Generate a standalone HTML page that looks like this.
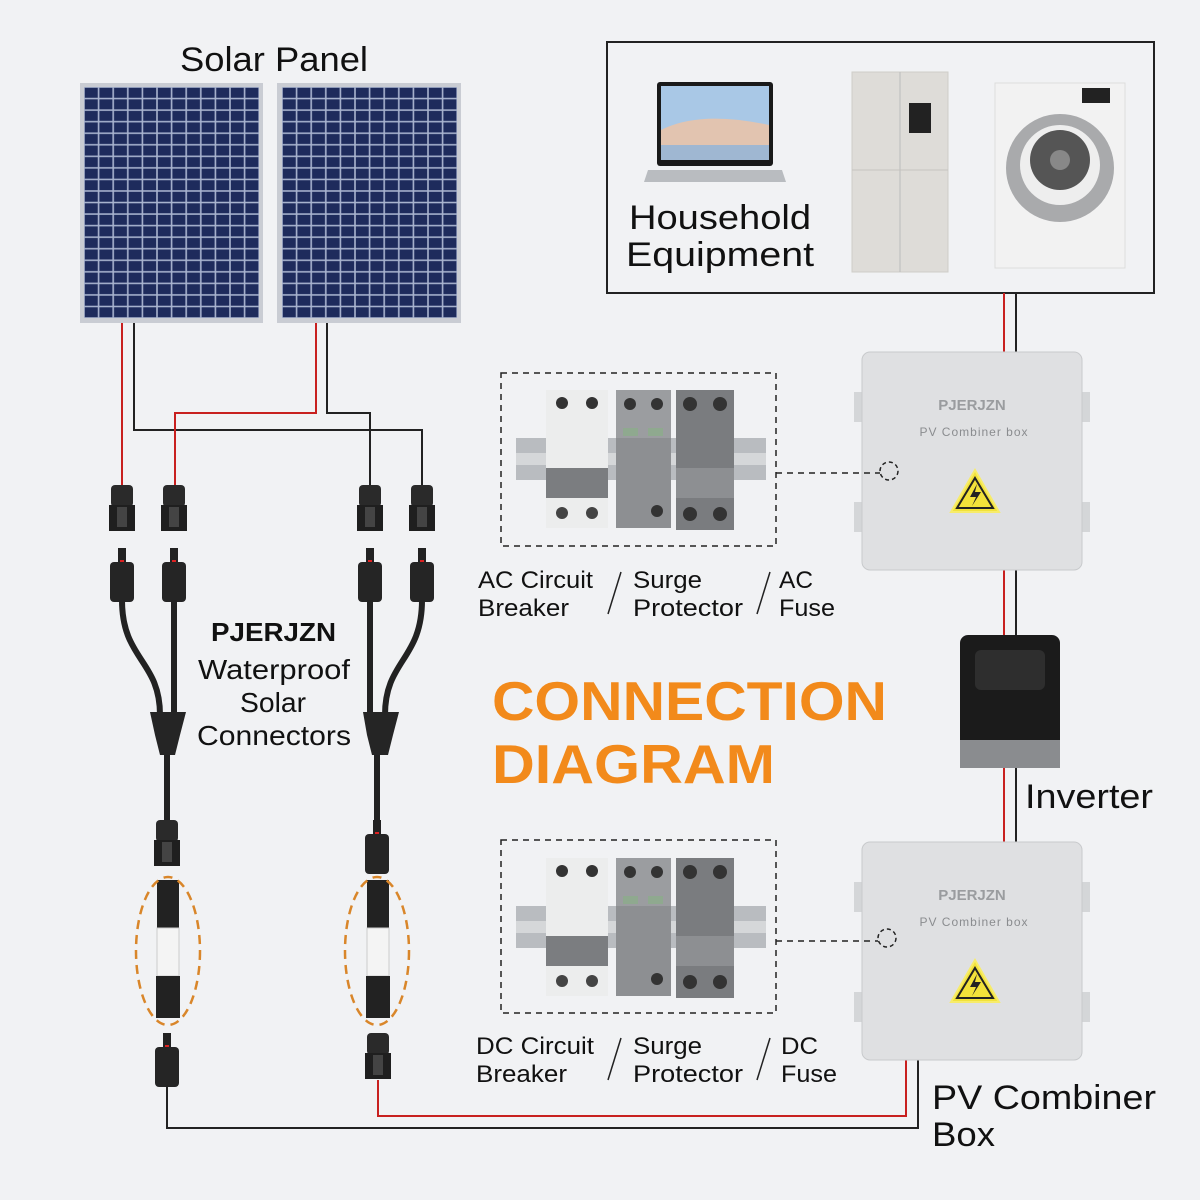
<!DOCTYPE html>
<html><head><meta charset="utf-8"><style>
html,body{margin:0;padding:0;background:#f1f2f4}
svg{display:block}
text{font-family:"Liberation Sans",sans-serif;fill:#111}
</style></head><body>
<svg width="1200" height="1200" viewBox="0 0 1200 1200" xmlns="http://www.w3.org/2000/svg">
<defs>
<pattern id="cells" x="84" y="87" width="14.6" height="11.55" patternUnits="userSpaceOnUse">
<rect width="14.6" height="11.55" fill="#a9b4cf"/>
<rect x="0.8" y="0.8" width="13" height="10" fill="#1e2b5c"/>
</pattern>
<pattern id="cells2" x="282" y="87" width="14.6" height="11.55" patternUnits="userSpaceOnUse">
<rect width="14.6" height="11.55" fill="#a9b4cf"/>
<rect x="0.8" y="0.8" width="13" height="10" fill="#1e2b5c"/>
</pattern>
<g id="connA"><rect x="-11" y="0" width="22" height="22" rx="4" fill="#2a2a2a"/><rect x="-13" y="20" width="26" height="26" fill="#1f1f1f"/><rect x="-5" y="22" width="10" height="20" fill="#444"/></g>
<g id="connB"><rect x="-4" y="0" width="8" height="14" fill="#222"/><rect x="-2" y="12" width="4" height="4" fill="#d22"/><rect x="-12" y="14" width="24" height="40" rx="4" fill="#252525"/></g>
<g id="breaker">
<rect x="0" y="70" width="250" height="42" fill="#b9bcc0"/><rect x="0" y="85" width="250" height="12" fill="#d5d7d9"/>
<rect x="30" y="22" width="62" height="138" fill="#eceded"/><rect x="30" y="100" width="62" height="30" fill="#7b7d80"/>
<circle cx="46" cy="35" r="6" fill="#333"/><circle cx="76" cy="35" r="6" fill="#333"/><circle cx="46" cy="145" r="6" fill="#444"/><circle cx="76" cy="145" r="6" fill="#444"/>
<rect x="100" y="22" width="55" height="138" fill="#8d8f92"/><rect x="100" y="22" width="55" height="48" fill="#9b9da0"/>
<circle cx="114" cy="36" r="6" fill="#333"/><circle cx="141" cy="36" r="6" fill="#333"/><circle cx="141" cy="143" r="6" fill="#333"/>
<rect x="107" y="60" width="15" height="8" fill="#8fa98f"/><rect x="132" y="60" width="15" height="8" fill="#8fa98f"/>
<rect x="160" y="22" width="58" height="140" fill="#7a7c7f"/><rect x="160" y="100" width="58" height="30" fill="#8d8f92"/>
<circle cx="174" cy="36" r="7" fill="#333"/><circle cx="204" cy="36" r="7" fill="#333"/><circle cx="174" cy="146" r="7" fill="#333"/><circle cx="204" cy="146" r="7" fill="#333"/>
</g>
<g id="cbox">
<rect x="-8" y="40" width="10" height="30" fill="#d4d6d8"/><rect x="-8" y="150" width="10" height="30" fill="#d4d6d8"/>
<rect x="218" y="40" width="10" height="30" fill="#d4d6d8"/><rect x="218" y="150" width="10" height="30" fill="#d4d6d8"/>
<rect x="0" y="0" width="220" height="218" rx="8" fill="#dfe0e2" stroke="#c8cacc"/>
<text x="110" y="58" text-anchor="middle" font-size="15" font-weight="bold" style="fill:#9a9c9f">PJERJZN</text>
<text x="112" y="84" text-anchor="middle" font-size="12" style="fill:#8a8c8f;letter-spacing:1px">PV Combiner box</text>
<polygon points="113,118 137,160 89,160" fill="#f2e23a" stroke="#f7ec6a" stroke-width="2"/>
<polygon points="113,126 131,156 95,156" fill="none" stroke="#222" stroke-width="2"/>
<path d="M115,132 L108,145 L114,145 L110,154 L119,140 L113,140 Z" fill="#222"/>
</g>
</defs>

<text x="180" y="71" font-size="34" textLength="188" lengthAdjust="spacingAndGlyphs">Solar Panel</text>
<rect x="80" y="83" width="183" height="240" fill="#c9ccd3"/><rect x="84" y="87" width="175" height="231" fill="url(#cells)"/>
<rect x="277" y="83" width="184" height="240" fill="#c9ccd3"/><rect x="282" y="87" width="175" height="231" fill="url(#cells2)"/>

<g fill="none" stroke-width="2">
<path d="M122,323 V487" stroke="#c8201f"/>
<path d="M134,323 V430 H422 V487" stroke="#222"/>
<path d="M316,323 V413 H175 V487" stroke="#c8201f"/>
<path d="M327,323 V413 H370 V487" stroke="#222"/>
</g>

<use href="#connA" x="122" y="485"/><use href="#connA" x="174" y="485"/>
<use href="#connB" x="122" y="548"/><use href="#connB" x="174" y="548"/>
<use href="#connA" x="370" y="485"/><use href="#connA" x="422" y="485"/>
<use href="#connB" x="370" y="548"/><use href="#connB" x="422" y="548"/>
<g fill="none" stroke="#222" stroke-width="6">
<path d="M122,600 C122,660 160,660 160,715"/><path d="M174,600 V715"/>
<path d="M370,600 V715"/><path d="M422,600 C422,660 385,660 385,715"/>
<path d="M167,750 V825"/><path d="M377,750 V825"/>
</g>
<path d="M150,712 H186 L180,735 L175,755 H160 L155,735 Z" fill="#252525"/>
<path d="M363,712 H399 L393,735 L388,755 H372 L367,735 Z" fill="#252525"/>
<use href="#connA" x="167" y="820"/><use href="#connB" x="377" y="820"/>
<rect x="157" y="880" width="22" height="48" fill="#222"/><rect x="157" y="928" width="22" height="48" fill="#f4f4f4" stroke="#ccc"/><rect x="156" y="976" width="24" height="42" fill="#222"/>
<rect x="367" y="880" width="22" height="48" fill="#222"/><rect x="367" y="928" width="22" height="48" fill="#f4f4f4" stroke="#ccc"/><rect x="366" y="976" width="24" height="42" fill="#222"/>
<ellipse cx="168" cy="951" rx="32" ry="74" fill="none" stroke="#d9862a" stroke-width="2.5" stroke-dasharray="9,6"/>
<ellipse cx="377" cy="951" rx="32" ry="74" fill="none" stroke="#d9862a" stroke-width="2.5" stroke-dasharray="9,6"/>
<use href="#connB" x="167" y="1033"/><use href="#connA" x="378" y="1033"/>
<g fill="none" stroke-width="2">
<path d="M167,1085 V1128 H918 V1060" stroke="#222"/>
<path d="M378,1080 V1116 H906 V1060" stroke="#c8201f"/>
</g>

<text x="211" y="641" font-size="26" font-weight="bold" textLength="125" lengthAdjust="spacingAndGlyphs">PJERJZN</text>
<text x="198" y="679" font-size="28" textLength="152" lengthAdjust="spacingAndGlyphs">Waterproof</text>
<text x="240" y="712" font-size="28" textLength="66" lengthAdjust="spacingAndGlyphs">Solar</text>
<text x="197" y="745" font-size="28" textLength="154" lengthAdjust="spacingAndGlyphs">Connectors</text>

<rect x="607" y="42" width="547" height="251" fill="none" stroke="#222" stroke-width="2"/>
<rect x="657" y="82" width="116" height="84" rx="3" fill="#1a1a1a"/>
<rect x="661" y="86" width="108" height="74" fill="#a9c8e6"/><path d="M661,130 Q700,110 769,125 V160 H661 Z" fill="#e2c4b0"/><rect x="661" y="145" width="108" height="15" fill="#9fb7d2"/>
<path d="M648,170 H782 L786,182 H644 Z" fill="#b9bcc0"/>
<text x="629" y="229" font-size="34" textLength="182" lengthAdjust="spacingAndGlyphs">Household</text>
<text x="626" y="266" font-size="34" textLength="188" lengthAdjust="spacingAndGlyphs">Equipment</text>
<rect x="852" y="72" width="96" height="200" fill="#dedcd8" stroke="#cfcdc9"/><line x1="900" y1="72" x2="900" y2="272" stroke="#bbb"/><line x1="852" y1="170" x2="948" y2="170" stroke="#c5c3bf"/>
<rect x="909" y="103" width="22" height="30" fill="#222"/>
<rect x="995" y="83" width="130" height="185" fill="#f2f2f2" stroke="#ddd"/>
<circle cx="1060" cy="168" r="54" fill="#a9aaac"/><circle cx="1060" cy="165" r="40" fill="#eee"/><circle cx="1060" cy="160" r="30" fill="#555"/><circle cx="1060" cy="160" r="10" fill="#888"/>
<rect x="1082" y="88" width="28" height="15" fill="#222"/>

<g stroke-width="2">
<line x1="1004" y1="293" x2="1004" y2="352" stroke="#c8201f"/><line x1="1016" y1="293" x2="1016" y2="352" stroke="#222"/>
<line x1="1004" y1="570" x2="1004" y2="636" stroke="#c8201f"/><line x1="1016" y1="570" x2="1016" y2="636" stroke="#222"/>
<line x1="1004" y1="768" x2="1004" y2="842" stroke="#c8201f"/><line x1="1016" y1="768" x2="1016" y2="842" stroke="#222"/>
</g>
<use href="#cbox" x="862" y="352"/>
<use href="#cbox" x="862" y="842"/>
<rect x="960" y="635" width="100" height="133" rx="8" fill="#1b1b1b"/>
<rect x="960" y="740" width="100" height="28" fill="#8a8c8f"/><rect x="975" y="650" width="70" height="40" rx="6" fill="#2e2e2e"/>
<text x="1025" y="808" font-size="34" textLength="128" lengthAdjust="spacingAndGlyphs">Inverter</text>
<text x="932" y="1109" font-size="34" textLength="224" lengthAdjust="spacingAndGlyphs">PV Combiner</text>
<text x="932" y="1146" font-size="34" textLength="63" lengthAdjust="spacingAndGlyphs">Box</text>

<rect x="501" y="373" width="275" height="173" fill="none" stroke="#222" stroke-width="1.5" stroke-dasharray="6,5"/>
<rect x="501" y="840" width="275" height="173" fill="none" stroke="#222" stroke-width="1.5" stroke-dasharray="6,5"/>
<use href="#breaker" x="516" y="368"/>
<use href="#breaker" x="516" y="836"/>
<path d="M776,473 H880" stroke="#222" stroke-width="1.5" stroke-dasharray="6,5"/>
<circle cx="889" cy="471" r="9" fill="none" stroke="#222" stroke-width="1.5" stroke-dasharray="4,3"/>
<path d="M776,941 H878" stroke="#222" stroke-width="1.5" stroke-dasharray="6,5"/>
<circle cx="887" cy="938" r="9" fill="none" stroke="#222" stroke-width="1.5" stroke-dasharray="4,3"/>

<g font-size="24">
<text x="478" y="588" textLength="115" lengthAdjust="spacingAndGlyphs">AC Circuit</text><text x="478" y="616" textLength="91" lengthAdjust="spacingAndGlyphs">Breaker</text>
<text x="633" y="588" textLength="69" lengthAdjust="spacingAndGlyphs">Surge</text><text x="633" y="616" textLength="110" lengthAdjust="spacingAndGlyphs">Protector</text>
<text x="779" y="588" textLength="34" lengthAdjust="spacingAndGlyphs">AC</text><text x="779" y="616" textLength="56" lengthAdjust="spacingAndGlyphs">Fuse</text>
<text x="476" y="1054" textLength="118" lengthAdjust="spacingAndGlyphs">DC Circuit</text><text x="476" y="1082" textLength="91" lengthAdjust="spacingAndGlyphs">Breaker</text>
<text x="633" y="1054" textLength="69" lengthAdjust="spacingAndGlyphs">Surge</text><text x="633" y="1082" textLength="110" lengthAdjust="spacingAndGlyphs">Protector</text>
<text x="781" y="1054" textLength="37" lengthAdjust="spacingAndGlyphs">DC</text><text x="781" y="1082" textLength="56" lengthAdjust="spacingAndGlyphs">Fuse</text>
</g>
<g stroke="#222" stroke-width="1.5">
<line x1="621" y1="572" x2="608" y2="614"/><line x1="770" y1="572" x2="757" y2="614"/>
<line x1="621" y1="1038" x2="608" y2="1080"/><line x1="770" y1="1038" x2="757" y2="1080"/>
</g>

<text x="492" y="720" font-size="55" font-weight="bold" style="fill:#f28a1b" textLength="395" lengthAdjust="spacingAndGlyphs">CONNECTION</text>
<text x="492" y="783" font-size="55" font-weight="bold" style="fill:#f28a1b" textLength="283" lengthAdjust="spacingAndGlyphs">DIAGRAM</text>
</svg>
</body></html>
